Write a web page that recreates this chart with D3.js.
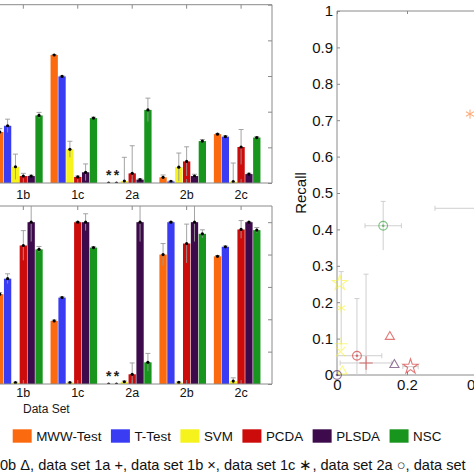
<!DOCTYPE html>
<html>
<head>
<meta charset="utf-8">
<script src="https://cdn.jsdelivr.net/npm/d3@7"></script>
<style>
  body { margin: 0; background: #fff; overflow: hidden; }
  svg { display: block; font-family: "Liberation Sans", Arial, sans-serif; }
</style>
</head>
<body>
<div id="chart"></div>
<script>
// data sets shown in the two bar panels
const groups = ["1b", "1c", "2a", "2b", "2c"];
const methods = ["MWW-Test", "T-Test", "SVM", "PCDA", "PLSDA", "NSC"];
const methodColors = ["#fc6a10", "#3a3cf4", "#f6f21c", "#cc0b0b", "#3d0a4b", "#17951d"];

// top panel: one row per data set, one value per method
const topMeans = [
  [0.286, 0.321, 0.091, 0.039, 0.039, 0.379],
  [0.718, 0.598, 0.189, 0.034, 0.060, 0.364],
  [0.000, 0.000, 0.011, 0.054, 0.019, 0.410],
  [0.032, 0.009, 0.089, 0.121, 0.039, 0.235],
  [0.274, 0.260, 0.008, 0.202, 0.050, 0.255]
];
const topErrors = [
  [0.020, 0.037, 0.071, 0.015, 0.005, 0.017],
  [0.003, 0.003, 0.045, 0.005, 0.047, 0.005],
  [0.000, 0.000, 0.133, 0.155, 0.005, 0.066],
  [0.013, 0.003, 0.079, 0.082, 0.010, 0.009],
  [0.003, 0.005, 0.104, 0.098, 0.005, 0.005]
];

// bottom panel
const bottomMeans = [
  [0.555, 0.651, 0.008, 0.856, 1.000, 0.832],
  [0.390, 0.534, 0.008, 1.000, 1.000, 0.843],
  [0.000, 0.000, 0.014, 0.060, 1.000, 0.134],
  [0.800, 1.000, 0.010, 0.868, 1.000, 0.928],
  [0.789, 0.848, 0.018, 0.955, 1.000, 0.951]
];
const bottomErrors = [
  [0.010, 0.030, 0.003, 0.092, 0.120, 0.018],
  [0.005, 0.005, 0.003, 0.003, 0.052, 0.005],
  [0.000, 0.000, 0.005, 0.070, 0.120, 0.055],
  [0.068, 0.003, 0.003, 0.120, 0.120, 0.025],
  [0.005, 0.005, 0.020, 0.055, 0.003, 0.016]
];
const barTicks = [0, 0.2, 0.4, 0.6, 0.8, 1];

// recall scatter (right)
const pointMethod = [0, 1, 5, 3, 3, 3, 4, 3, 2, 2, 2, 2, 2, 4];
const pointSet =    ["1c", "2b", "2a", "2a", "1a", "0b", "0b", "2b", "2b", "1c", "1a", "1b", "0b", "2a"];
const pointX =      [0.380, 0.500, 0.132, 0.057, 0.083, 0.151, 0.164, 0.210, 0.008, 0.012, 0.012, 0.010, 0.015, 0.000];
const pointY =      [0.717, 0.458, 0.410, 0.053, 0.033, 0.105, 0.028, 0.023, 0.253, 0.184, 0.086, 0.064, 0.010, 0.000];
const pointXErr =   [0, 0.220, 0.052, 0.071, 0.074, 0, 0, 0.022, 0, 0, 0, 0, 0, 0];
const pointYErr =   [0, 0, 0.067, 0.157, 0.244, 0, 0, 0, 0, 0.100, 0, 0, 0, 0];
const recallTicks = [0, 0.1, 0.2, 0.3, 0.4, 0.5, 0.6, 0.7, 0.8, 0.9, 1];
const fprTicks = [0, 0.2, 0.4];

const caption = "0b \u0394, data set 1a +, data set 1b \u00d7, data set 1c \u2217, data set 2a \u25cb, data set";

const width = 474, height = 474;
const frameColor = "#8a8a8a";

const svg = d3.select("#chart").append("svg")
  .attr("width", width)
  .attr("height", height);

// ---------- bar panels ----------
const x0 = d3.scaleBand().domain(groups).range([-3.9, 268.3]);
// six methods plus an empty seventh slot, like the original layout
const x1 = d3.scaleBand().domain(d3.range(methods.length + 1))
  .range([0, x0.bandwidth()]).paddingInner(0.07);
const panelRight = 272;

function drawPanel(id, means, errors, top, bottom, yMax, labelPad) {
  const y = d3.scaleLinear().domain([0, yMax]).range([bottom, top]);
  const g = svg.append("g");

  g.append("clipPath").attr("id", id)
    .append("rect").attr("x", -10).attr("y", top).attr("width", panelRight + 10).attr("height", bottom - top);

  const rows = [];
  means.forEach((row, gi) => row.forEach((v, mi) => {
    rows.push({ group: groups[gi], mi, v, e: errors[gi][mi] });
  }));
  const cx = d => x0(d.group) + x1(d.mi) + x1.bandwidth() / 2;

  const plot = g.append("g").attr("clip-path", `url(#${id})`);

  plot.selectAll("rect.bar")
    .data(rows)
    .join("rect")
    .attr("class", "bar")
    .attr("x", d => x0(d.group) + x1(d.mi))
    .attr("width", x1.bandwidth())
    .attr("y", d => y(d.v))
    .attr("height", d => y(0) - y(d.v))
    .attr("fill", d => methodColors[d.mi]);

  const eb = plot.selectAll("g.err")
    .data(rows.filter(d => d.e > 0))
    .join("g")
    .attr("class", "err")
    .attr("stroke", "#9a9a9a")
    .attr("stroke-width", 0.9);
  eb.append("line")
    .attr("x1", cx).attr("x2", cx)
    .attr("y1", d => y(d.v + d.e)).attr("y2", d => y(Math.max(0, d.v - d.e)));
  eb.append("line")
    .attr("x1", d => cx(d) - 2.5).attr("x2", d => cx(d) + 2.5)
    .attr("y1", d => y(d.v + d.e)).attr("y2", d => y(d.v + d.e));

  plot.selectAll("circle.mean")
    .data(rows)
    .join("circle")
    .attr("class", "mean")
    .attr("cx", cx)
    .attr("cy", d => y(d.v))
    .attr("r", 1.6)
    .attr("fill", "#000");

  // significance marks over the empty bars
  g.selectAll("text.star")
    .data(rows.filter(d => d.v === 0))
    .join("text")
    .attr("class", "star")
    .attr("x", cx)
    .attr("y", y(0) - 3)
    .attr("text-anchor", "middle")
    .attr("font-size", 14)
    .attr("font-weight", "bold")
    .attr("fill", "#222")
    .text("*");

  // frame
  g.append("path")
    .attr("d", `M-5,${top}H${panelRight}V${bottom}H-5`)
    .attr("fill", "none")
    .attr("stroke", frameColor);

  const right = g.append("g")
    .attr("transform", `translate(${panelRight},0)`)
    .call(d3.axisRight(y).tickValues(barTicks).tickSizeInner(-4).tickSizeOuter(0).tickFormat(""));
  right.select(".domain").remove();
  right.selectAll("line").attr("stroke", frameColor);

  const topAx = g.append("g")
    .attr("transform", `translate(0,${top})`)
    .call(d3.axisTop(x0).tickSizeInner(-4).tickSizeOuter(0).tickFormat(""));
  topAx.select(".domain").remove();
  topAx.selectAll("line").attr("stroke", frameColor);

  const bot = g.append("g")
    .attr("transform", `translate(0,${bottom})`)
    .call(d3.axisBottom(x0).tickSizeInner(-4).tickSizeOuter(0).tickPadding(labelPad));
  bot.select(".domain").remove();
  bot.selectAll("line").attr("stroke", frameColor);
  bot.selectAll("text")
    .attr("font-size", 12.5)
    .attr("font-family", "Liberation Sans, Arial, sans-serif")
    .attr("fill", "#111");
}

drawPanel("clipTop", topMeans, topErrors, 4.7, 183, 1, 7);
drawPanel("clipBottom", bottomMeans, bottomErrors, 206, 384, 1.1, 4);

svg.append("text")
  .attr("x", 23)
  .attr("y", 412.5)
  .attr("font-size", 12)
  .attr("fill", "#1a1a1a")
  .text("Data Set");

// ---------- recall scatter ----------
const xs = d3.scaleLinear().domain([0, 1]).range([337, 687]);
const ys = d3.scaleLinear().domain([0, 1]).range([375, 11]);

const sc = svg.append("g");
sc.append("path")
  .attr("d", `M${width + 5},${ys(1)}H${xs(0)}V${ys(0)}H${width + 5}`)
  .attr("fill", "none")
  .attr("stroke", frameColor);

const yAx = sc.append("g")
  .attr("transform", `translate(${xs(0)},0)`)
  .call(d3.axisLeft(ys).tickValues(recallTicks).tickSizeInner(-3).tickSizeOuter(0)
    .tickPadding(4).tickFormat(d3.format("~g")));
yAx.select(".domain").remove();
yAx.selectAll("line").attr("stroke", frameColor);
yAx.selectAll("text")
  .attr("font-size", 15)
  .attr("font-family", "Liberation Sans, Arial, sans-serif")
  .attr("fill", "#111");

const xAx = sc.append("g")
  .attr("transform", `translate(0,${ys(0)})`)
  .call(d3.axisBottom(xs).tickValues(fprTicks).tickSizeInner(-3).tickSizeOuter(0)
    .tickPadding(4).tickFormat(d3.format("~g")));
xAx.select(".domain").remove();
xAx.selectAll("line").attr("stroke", frameColor);
xAx.selectAll("text")
  .attr("font-size", 15)
  .attr("font-family", "Liberation Sans, Arial, sans-serif")
  .attr("fill", "#111");

const xTop = sc.append("g")
  .attr("transform", `translate(0,${ys(1)})`)
  .call(d3.axisTop(xs).tickValues(fprTicks).tickSizeInner(-3).tickSizeOuter(0).tickFormat(""));
xTop.select(".domain").remove();
xTop.selectAll("line").attr("stroke", frameColor);

sc.append("text")
  .attr("transform", `translate(306,${(ys(0) + ys(1)) / 2}) rotate(-90)`)
  .attr("text-anchor", "middle")
  .attr("font-size", 15)
  .attr("fill", "#111")
  .text("Recall");

const setSymbols = {
  "0b": d3.symbolTriangle2,
  "1a": d3.symbolPlus,
  "1b": d3.symbolTimes,
  "1c": d3.symbolAsterisk,
  "2a": d3.symbolCircle,
  "2b": d3.symbolStar
};

const pts = pointX.map((x, i) => ({
  x, y: pointY[i], xe: pointXErr[i], ye: pointYErr[i],
  color: methodColors[pointMethod[i]], set: pointSet[i]
}));

const errG = sc.append("g").attr("stroke", "#cfcfcf").attr("stroke-width", 1);
pts.filter(d => d.xe > 0).forEach(d => {
  const a = xs(Math.max(0, d.x - d.xe)), b = xs(d.x + d.xe), yy = ys(d.y);
  errG.append("line").attr("x1", a).attr("x2", b).attr("y1", yy).attr("y2", yy);
  errG.append("line").attr("x1", a).attr("x2", a).attr("y1", yy - 2.5).attr("y2", yy + 2.5);
  errG.append("line").attr("x1", b).attr("x2", b).attr("y1", yy - 2.5).attr("y2", yy + 2.5);
});
pts.filter(d => d.ye > 0).forEach(d => {
  const a = ys(Math.max(0, d.y - d.ye)), b = ys(d.y + d.ye), xx = xs(d.x);
  errG.append("line").attr("x1", xx).attr("x2", xx).attr("y1", a).attr("y2", b);
  errG.append("line").attr("x1", xx - 2.5).attr("x2", xx + 2.5).attr("y1", b).attr("y2", b);
});

sc.selectAll("path.pt")
  .data(pts)
  .join("path")
  .attr("class", "pt")
  .attr("transform", d => `translate(${xs(d.x)},${ys(d.y)})`)
  .attr("d", d => d3.symbol(setSymbols[d.set], d.set === "2b" ? 70 : 60)())
  .attr("fill", "none")
  .attr("stroke", d => d.color)
  .attr("stroke-opacity", 0.55)
  .attr("stroke-width", 1.1);

sc.selectAll("circle.core")
  .data(pts.filter(d => d.set === "2a"))
  .join("circle")
  .attr("class", "core")
  .attr("cx", d => xs(d.x))
  .attr("cy", d => ys(d.y))
  .attr("r", 1.3)
  .attr("fill", d => d.color)
  .attr("fill-opacity", 0.55);

// ---------- legend ----------
const legend = svg.append("g").attr("transform", "translate(12.7,429.3)");
let lx = 0;
methods.forEach((m, i) => {
  legend.append("rect")
    .attr("x", lx).attr("y", 0)
    .attr("width", 19).attr("height", 13.4)
    .attr("fill", methodColors[i]);
  const t = legend.append("text")
    .attr("x", lx + 23.5)
    .attr("y", 11.7)
    .attr("font-size", 13.4)
    .attr("fill", "#111")
    .text(m);
  lx += 23.5 + t.node().getComputedTextLength() + 9.5;
});

svg.append("text")
  .attr("x", 0)
  .attr("y", 470)
  .attr("font-size", 14.6)
  .attr("fill", "#111")
  .text(caption);
</script>
</body>
</html>
